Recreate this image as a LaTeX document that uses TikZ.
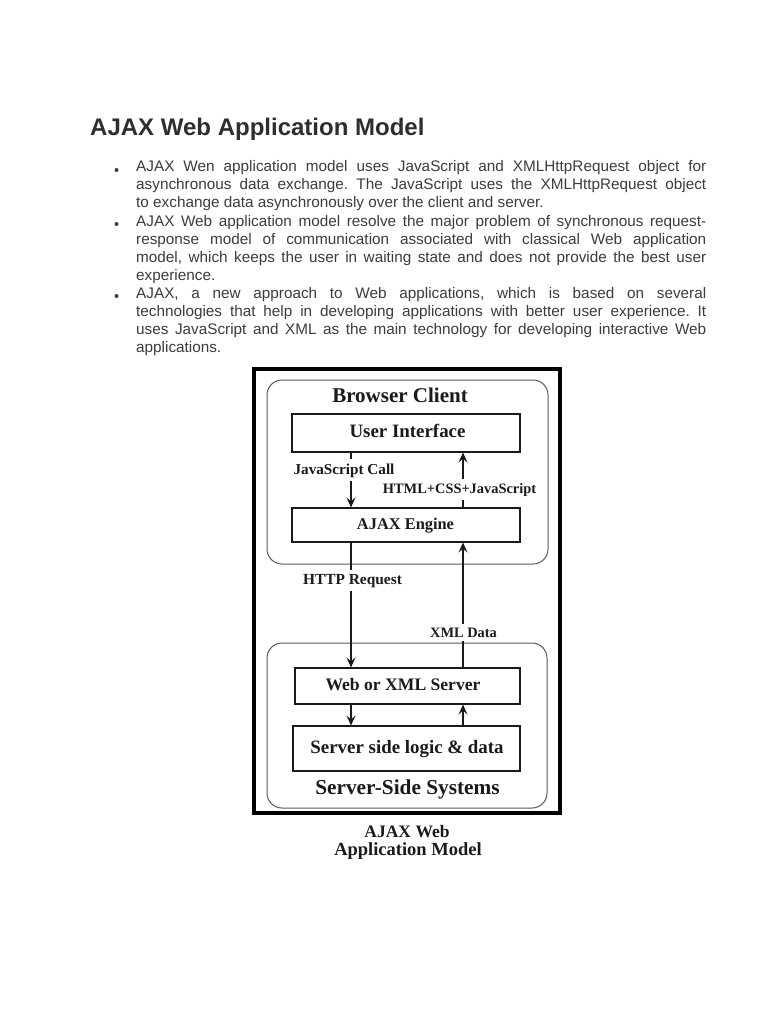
\documentclass[tikz,border=0pt]{standalone}
\usepackage{fontspec}
\setmainfont{Liberation Sans}
\newfontfamily\diagfont{Liberation Serif}
\usetikzlibrary{arrows.meta}
\definecolor{titlegray}{HTML}{2E2E2E}
\definecolor{bodygray}{HTML}{3C3C3C}
\definecolor{roundgray}{HTML}{5A5A5A}
\definecolor{diagink}{HTML}{1A1A1A}
\frenchspacing
\ExplSyntaxOn
\dim_new:N \l__wl_total_dim
\dim_new:N \l__wl_gap_dim
\dim_new:N \l__wl_x_dim
\seq_new:N \l__wl_words_seq
\tl_new:N \l__wl_out_tl
\box_new:N \l__wl_tmp_box
\int_new:N \l__wl_n_int
\cs_new_protected:Npn \__wl_line:nn #1 #2
  {
    \seq_set_split:Nnn \l__wl_words_seq { ~ } { #2 }
    \seq_remove_all:Nn \l__wl_words_seq { }
    \int_set:Nn \l__wl_n_int { \seq_count:N \l__wl_words_seq }
    \dim_zero:N \l__wl_total_dim
    \seq_map_inline:Nn \l__wl_words_seq
      {
        \hbox_set:Nn \l__wl_tmp_box { ##1 }
        \dim_add:Nn \l__wl_total_dim { \box_wd:N \l__wl_tmp_box }
      }
    \dim_set:Nn \l__wl_gap_dim { \fontdimen2\font }
    \tl_if_blank:nF { #1 }
      {
        \int_compare:nNnT { \l__wl_n_int } > { 1 }
          { \dim_set:Nn \l__wl_gap_dim { ( #1 - \l__wl_total_dim ) / ( \l__wl_n_int - 1 ) } }
      }
    \dim_zero:N \l__wl_x_dim
    \tl_clear:N \l__wl_out_tl
    \seq_map_inline:Nn \l__wl_words_seq
      {
        \tl_put_left:Nx \l__wl_out_tl
          {
            \exp_not:N \hbox_overlap_right:n
              { \exp_not:N \skip_horizontal:n { \dim_use:N \l__wl_x_dim } \exp_not:n { ##1 } }
          }
        \hbox_set:Nn \l__wl_tmp_box { ##1 }
        \dim_add:Nn \l__wl_x_dim { \box_wd:N \l__wl_tmp_box + \l__wl_gap_dim }
      }
    \dim_sub:Nn \l__wl_x_dim { \l__wl_gap_dim }
    \hbox:n { \l__wl_out_tl \skip_horizontal:n { \l__wl_x_dim } }
  }
\NewDocumentCommand \jline { m } { \__wl_line:nn { 570pt } { #1 } }
\NewDocumentCommand \nline { m } { \__wl_line:nn { } { #1 } }
\ExplSyntaxOff
\tikzset{
  bodyline/.style={anchor=base west, inner sep=0pt, text=bodygray, font=\fontsize{15.3}{18}\selectfont},
  bulletdot/.style={circle, fill=bodygray, inner sep=0pt, minimum size=4pt},
  roundbox/.style={draw=roundgray, line width=1pt, rounded corners=15pt},
  innerbox/.style={draw=diagink, line width=1.1pt, inner sep=0pt},
  dlab/.style={anchor=base, inner sep=0pt, text=diagink, font=\diagfont\bfseries\fontsize{#1}{#1}\selectfont},
  cutlab/.style={fill=white, inner xsep=1pt, inner ysep=4pt},
  flow/.style={draw=diagink, line width=1.1pt, -{Stealth[length=10pt,width=9pt,inset=4pt]}}
}
\begin{document}
\begin{tikzpicture}[x=1pt,y=-1pt]
\useasboundingbox[fill=white] (0,0) rectangle (768,1024);
% title
\node[anchor=base west, inner sep=0pt, text=titlegray, font=\bfseries\fontsize{24}{28}\selectfont] (title) at (90,136) {\nline{AJAX Web Application Model}};
% bullets
\node[bulletdot] (b1) at (116.5,170) {};
\node[bulletdot] (b2) at (116.5,224) {};
\node[bulletdot] (b3) at (116.5,296) {};
\node[bodyline] (l1) at (136,172) {\jline{AJAX Wen application model uses JavaScript and XMLHttpRequest object for}};
\node[bodyline] (l2) at (136,190) {\jline{asynchronous data exchange. The JavaScript uses the XMLHttpRequest object}};
\node[bodyline] (l3) at (136,208) {\nline{to exchange data asynchronously over the client and server.}};
\node[bodyline] (l4) at (136,226) {\jline{AJAX Web application model resolve the major problem of synchronous request-}};
\node[bodyline] (l5) at (136,244) {\jline{response model of communication associated with classical Web application}};
\node[bodyline] (l6) at (136,262) {\jline{model, which keeps the user in waiting state and does not provide the best user}};
\node[bodyline] (l7) at (136,280) {\nline{experience.}};
\node[bodyline] (l8) at (136,298) {\jline{AJAX, a new approach to Web applications, which is based on several}};
\node[bodyline] (l9) at (136,316) {\jline{technologies that help in developing applications with better user experience. It}};
\node[bodyline] (l10) at (136,334) {\jline{uses JavaScript and XML as the main technology for developing interactive Web}};
\node[bodyline] (l11) at (136,352) {\nline{applications.}};
% diagram frame
\draw[line width=4.5pt, draw=black] (254,369) rectangle (560,813);
\draw[roundbox] (267,380) rectangle (548,564);
\draw[roundbox] (267,643) rectangle (547,808);
% boxes
\node[innerbox, minimum width=228pt, minimum height=38pt] (ui) at (406,433) {};
\node[innerbox, minimum width=228pt, minimum height=34pt] (ajax) at (406,525) {};
\node[innerbox, minimum width=225pt, minimum height=36pt] (ws) at (407.5,686) {};
\node[innerbox, minimum width=227pt, minimum height=45pt] (sl) at (406.5,748.5) {};
\coordinate (L) at (351,0);
\coordinate (R) at (463,0);
% connectors
\draw[flow] (ui.south -| L) -- (ajax.north -| L);
\draw[flow] (ajax.north -| R) -- (ui.south -| R);
\draw[flow] (ajax.south -| L) -- (ws.north -| L);
\draw[flow] (ws.north -| R) -- (ajax.south -| R);
\draw[flow] (ws.south -| L) -- (sl.north -| L);
\draw[flow] (sl.north -| R) -- (ws.south -| R);
% labels
\node[dlab=21] (tbc) at (400,402) {\nline{Browser Client}};
\node[dlab=18.9] (tui) at (407.5,437) {\nline{User Interface}};
\node[dlab=15.2, cutlab] (tjs) at (344,474) {\nline{JavaScript Call}};
\node[dlab=14.4, cutlab] (thtml) at (459.5,493) {HTML+CSS+JavaScript};
\node[dlab=16.4] (tae) at (405.5,529) {\nline{AJAX Engine}};
\node[dlab=15.4, cutlab] (thttp) at (352.5,584) {\nline{HTTP Request}};
\node[dlab=14.4, cutlab] (txml) at (463.5,637) {\nline{XML Data}};
\node[dlab=17.6] (tws) at (403,690) {\nline{Web or XML Server}};
\node[dlab=18.9] (tsl) at (407,753) {\nline{Server side logic \& data}};
\node[dlab=21.3] (tss) at (407.5,794) {\nline{Server-Side Systems}};
\node[dlab=17.5] (cap1) at (407,837) {\nline{AJAX Web}};
\node[dlab=18.5] (cap2) at (408,855) {\nline{Application Model}};
\end{tikzpicture}
\end{document}
